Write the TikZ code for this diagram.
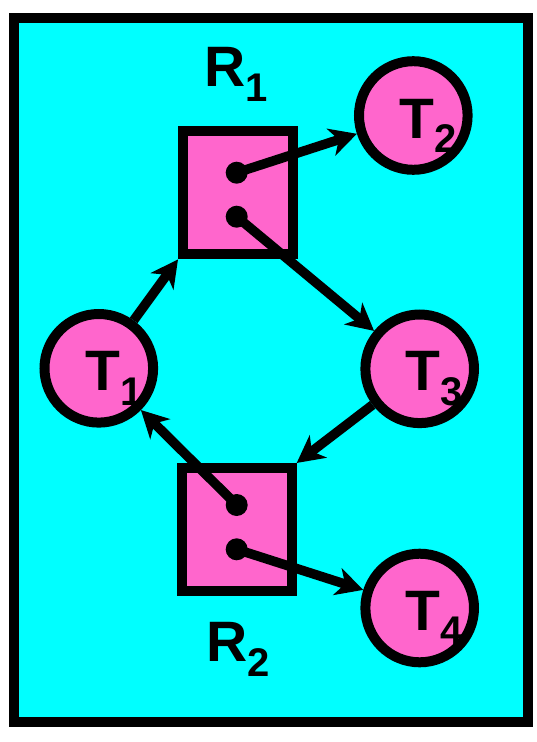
\documentclass[tikz,border=0pt]{standalone}
\usepackage{fontspec}
\setmainfont{Liberation Sans}
\usetikzlibrary{arrows.meta}
\definecolor{bgcyan}{RGB}{0,255,255}
\definecolor{nodepink}{RGB}{255,102,204}
\newcommand\mysub[1]{\raisebox{-14.3pt}{\fontsize{40pt}{40pt}\selectfont #1}}
\begin{document}
\begin{tikzpicture}[x=1pt,y=-1pt,
  task/.style={circle, draw=black, fill=nodepink, line width=10pt, minimum size=108.6pt, inner sep=0pt},
  res/.style={rectangle, draw=black, fill=nodepink, line width=10pt, minimum width=110pt, minimum height=123.5pt, inner sep=0pt},
  dotnode/.style={circle, fill=black, minimum size=22pt, inner sep=0pt},
  lab/.style={font=\bfseries\fontsize{57pt}{60pt}\selectfont, inner sep=0pt, anchor=base west},
  arr/.style={line width=9.5pt, -{Stealth[length=27pt, width=28pt, inset=8pt]}}
]
\useasboundingbox (0,0) rectangle (536,742);
\draw[line width=10pt, fill=bgcyan] (14,18) rectangle (528,722);

\node[task] (T1) at (98.8,368.3) {};
\node[task] (T2) at (413.3,115.5) {};
\node[task] (T3) at (419.7,368.8) {};
\node[task] (T4) at (419.7,608) {};
\node[res] (R1) at (238,192.7) {};
\node[res] (R2) at (236.7,529.7) {};

\node[dotnode] (a1) at (236.7,172.7) {};
\node[dotnode] (b1) at (236.7,216.7) {};
\node[dotnode] (a2) at (236.7,505) {};
\node[dotnode] (b2) at (236.7,549.3) {};

\draw[arr] (T1) -- (R1.south west);
\draw[arr] (a1.center) -- (T2);
\draw[arr] (b1.center) -- (T3);
\draw[arr] (T3) -- (R2.north east);
\draw[arr] (a2.center) -- (T1);
\draw[arr] (b2.center) -- (T4);

\node[lab] (lt1) at (85,390.7) {T\mysub{1}};
\node[lab] (lt2) at (399,138) {T\mysub{2}};
\node[lab] (lt3) at (405.5,390.7) {T\mysub{3}};
\node[lab] (lt4) at (405.5,630) {T\mysub{4}};
\node[lab] (lr1) at (204,86.7) {R\mysub{1}};
\node[lab] (lr2) at (206,661.7) {R\mysub{2}};
\end{tikzpicture}
\end{document}
